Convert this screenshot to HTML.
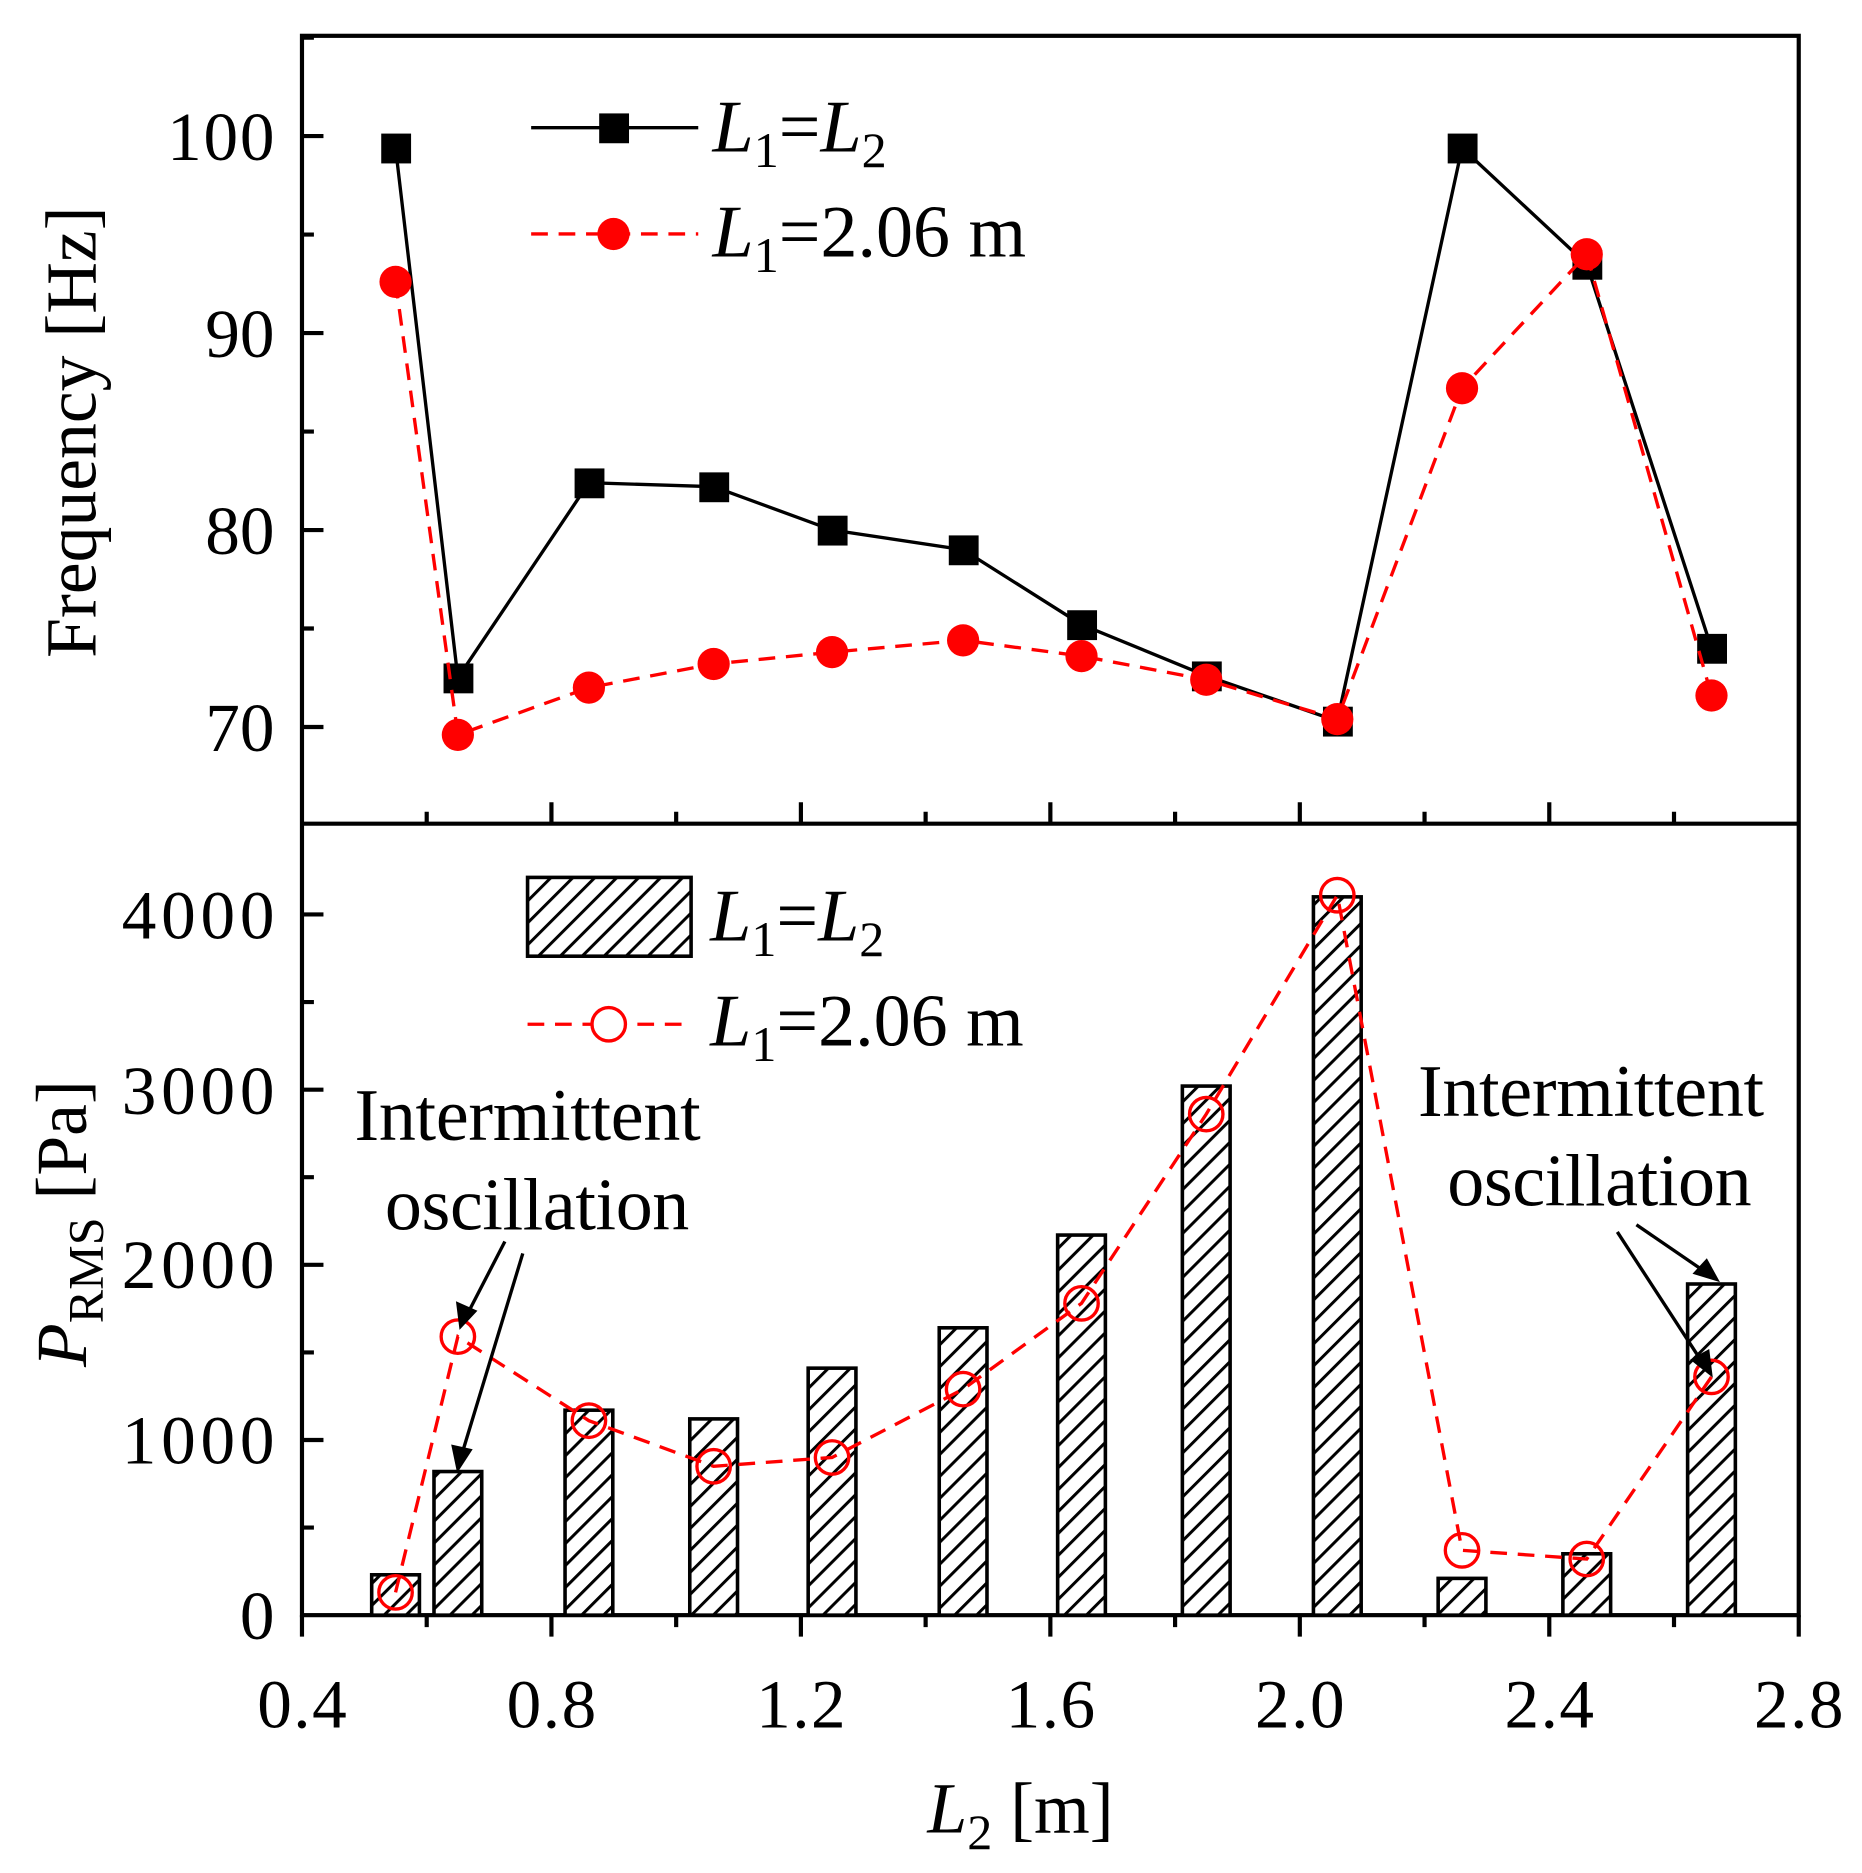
<!DOCTYPE html>
<html><head><meta charset="utf-8"><style>html,body{margin:0;padding:0;background:#fff}svg{display:block}</style></head>
<body>
<svg width="1862" height="1873" viewBox="0 0 1560 1569" preserveAspectRatio="none" xmlns="http://www.w3.org/2000/svg" font-family="Liberation Serif, serif">
<defs>
<pattern id="h" patternUnits="userSpaceOnUse" width="13" height="13" patternTransform="rotate(45)">
<rect width="13" height="13" fill="#fff"/><line x1="0" y1="0" x2="0" y2="13" stroke="#000" stroke-width="5"/>
</pattern>
</defs>
<rect width="1560" height="1569" fill="#fff"/>
<g stroke="#000" stroke-width="3.5" fill="none">
<rect x="253" y="30" width="1254" height="1323"/>
<line x1="253" y1="690" x2="1507" y2="690"/>
<path d="M462 690v-18M671 690v-18M880 690v-18M1089 690v-18M1298 690v-18M357.5 690v-10M566.5 690v-10M775.5 690v-10M984.5 690v-10M1193.5 690v-10M1402.5 690v-10"/>
<path d="M253 1353v18M462 1353v18M671 1353v18M880 1353v18M1089 1353v18M1298 1353v18M1507 1353v18M357.5 1353v10M566.5 1353v10M775.5 1353v10M984.5 1353v10M1193.5 1353v10M1402.5 1353v10"/>
<path d="M253 609h18M253 444h18M253 279h18M253 114h18M253 526.5h10M253 361.5h10M253 196.5h10M253 31.5h10"/>
<path d="M253 1206.3h18M253 1059.5h18M253 912.8h18M253 766h18M253 1279.6h10M253 1132.9h10M253 986.1h10M253 839.4h10"/>
</g>
<g font-size="58" text-anchor="middle" fill="#000">
<text x="253" y="1447" textLength="75">0.4</text><text x="462" y="1447" textLength="75">0.8</text><text x="671" y="1447" textLength="75">1.2</text><text x="880" y="1447" textLength="75">1.6</text><text x="1089" y="1447" textLength="75">2.0</text><text x="1298" y="1447" textLength="75">2.4</text><text x="1507" y="1447" textLength="75">2.8</text>
</g>
<g font-size="58" text-anchor="end" fill="#000">
<text x="230" y="629">70</text><text x="230" y="464">80</text><text x="230" y="299">90</text><text x="230" y="134" textLength="90">100</text>
<text x="230" y="1373">0</text><text x="230" y="1226" textLength="128">1000</text><text x="230" y="1079" textLength="128">2000</text><text x="230" y="933" textLength="128">3000</text><text x="230" y="786" textLength="128">4000</text>
</g>
<text transform="translate(80,362) rotate(-90)" font-size="60" text-anchor="middle">Frequency [Hz]</text>
<text transform="translate(72,1025) rotate(-90)" font-size="60" text-anchor="middle"><tspan font-style="italic">P</tspan><tspan font-size="42" dy="14">RMS</tspan><tspan dy="-14"> [Pa]</tspan></text>
<text x="855" y="1535" font-size="60" text-anchor="middle"><tspan font-style="italic">L</tspan><tspan font-size="42" dy="14">2</tspan><tspan dy="-14"> [m]</tspan></text>

<polyline fill="none" stroke="#000" stroke-width="2.8" points="331.4,123.9 383.6,567.8 493.4,404.4 597.9,407.7 697.1,444 806.9,460.5 906.1,523.2 1010.6,566.1 1120.4,604 1224.9,123.9 1329.4,221.3 1433.9,543"/>
<g fill="#000">
<rect x="319.4" y="111.9" width="25" height="25"/><rect x="371.6" y="555.8" width="25" height="25"/><rect x="481.4" y="392.4" width="25" height="25"/><rect x="585.9" y="395.7" width="25" height="25"/><rect x="685.1" y="432" width="25" height="25"/><rect x="794.9" y="448.5" width="25" height="25"/><rect x="894.1" y="511.2" width="25" height="25"/><rect x="998.6" y="554.1" width="25" height="25"/><rect x="1108.4" y="592" width="25" height="25"/><rect x="1212.9" y="111.9" width="25" height="25"/><rect x="1317.4" y="209.3" width="25" height="25"/><rect x="1421.9" y="531" width="25" height="25"/>
</g>
<polyline fill="none" stroke="#f00" stroke-width="2.8" stroke-dasharray="14,9" points="331.4,236.1 383.6,615.6 493.4,576 597.9,556.2 697.1,546.3 806.9,536.4 906.1,549.6 1010.6,569.4 1120.4,602.4 1224.9,325.2 1329.4,213 1433.9,582.6"/>
<g fill="#f00">
<circle cx="331.4" cy="236.1" r="13.5"/><circle cx="383.6" cy="615.6" r="13.5"/><circle cx="493.4" cy="576" r="13.5"/><circle cx="597.9" cy="556.2" r="13.5"/><circle cx="697.1" cy="546.3" r="13.5"/><circle cx="806.9" cy="536.4" r="13.5"/><circle cx="906.1" cy="549.6" r="13.5"/><circle cx="1010.6" cy="569.4" r="13.5"/><circle cx="1120.4" cy="602.4" r="13.5"/><circle cx="1224.9" cy="325.2" r="13.5"/><circle cx="1329.4" cy="213" r="13.5"/><circle cx="1433.9" cy="582.6" r="13.5"/>
</g>
<line x1="445" y1="107" x2="585" y2="107" stroke="#000" stroke-width="2.8"/>
<rect x="502" y="95" width="25" height="25" fill="#000"/>
<text x="597" y="127" font-size="62"><tspan font-style="italic">L</tspan><tspan font-size="42" dy="13">1</tspan><tspan dy="-13">=</tspan><tspan font-style="italic">L</tspan><tspan font-size="42" dy="13">2</tspan></text>
<line x1="445" y1="196" x2="585" y2="196" stroke="#f00" stroke-width="2.8" stroke-dasharray="14,9"/>
<circle cx="514" cy="196" r="13.5" fill="#f00"/>
<text x="597" y="215" font-size="62"><tspan font-style="italic">L</tspan><tspan font-size="42" dy="13">1</tspan><tspan dy="-13">=2.06 m</tspan></text>

<g fill="url(#h)" stroke="#000" stroke-width="3">
<rect x="311.4" y="1319.2" width="40" height="33.8"/><rect x="363.6" y="1232.7" width="40" height="120.3"/><rect x="473.4" y="1181.3" width="40" height="171.7"/><rect x="577.9" y="1188.6" width="40" height="164.4"/><rect x="677.1" y="1146.1" width="40" height="206.9"/><rect x="786.9" y="1112.3" width="40" height="240.7"/><rect x="886.1" y="1034.6" width="40" height="318.4"/><rect x="990.6" y="909.8" width="40" height="443.2"/><rect x="1100.4" y="751.3" width="40" height="601.7"/><rect x="1204.9" y="1322.2" width="40" height="30.8"/><rect x="1309.4" y="1301.6" width="40" height="51.4"/><rect x="1413.9" y="1075.6" width="40" height="277.4"/>
</g>
<polyline fill="none" stroke="#f00" stroke-width="2.8" stroke-dasharray="14,9" points="331.4,1333.9 383.6,1119.7 493.4,1190.1 597.9,1228.3 697.1,1220.9 806.9,1163.7 906.1,1091.8 1010.6,933.3 1120.4,749.9 1224.9,1298.7 1329.4,1306 1433.9,1153.4"/>
<g fill="none" stroke="#f00" stroke-width="2.8">
<circle cx="331.4" cy="1333.9" r="14"/><circle cx="383.6" cy="1119.7" r="14"/><circle cx="493.4" cy="1190.1" r="14"/><circle cx="597.9" cy="1228.3" r="14"/><circle cx="697.1" cy="1220.9" r="14"/><circle cx="806.9" cy="1163.7" r="14"/><circle cx="906.1" cy="1091.8" r="14"/><circle cx="1010.6" cy="933.3" r="14"/><circle cx="1120.4" cy="749.9" r="14"/><circle cx="1224.9" cy="1298.7" r="14"/><circle cx="1329.4" cy="1306" r="14"/><circle cx="1433.9" cy="1153.4" r="14"/>
</g>
<rect x="442" y="735" width="137" height="66" fill="url(#h)" stroke="#000" stroke-width="3"/>
<text x="595" y="788" font-size="62"><tspan font-style="italic">L</tspan><tspan font-size="42" dy="13">1</tspan><tspan dy="-13">=</tspan><tspan font-style="italic">L</tspan><tspan font-size="42" dy="13">2</tspan></text>
<line x1="442" y1="858" x2="580" y2="858" stroke="#f00" stroke-width="2.8" stroke-dasharray="14,9"/>
<circle cx="510" cy="858" r="14" fill="#fff" stroke="#f00" stroke-width="2.8"/>
<text x="595" y="876" font-size="62"><tspan font-style="italic">L</tspan><tspan font-size="42" dy="13">1</tspan><tspan dy="-13">=2.06 m</tspan></text>

<g font-size="62" text-anchor="middle">
<text x="442" y="955" textLength="290">Intermittent</text><text x="450" y="1030" textLength="255">oscillation</text>
<text x="1333" y="935" textLength="290">Intermittent</text><text x="1340" y="1010" textLength="255">oscillation</text>
</g>
<g stroke="#000" stroke-width="2.8">
<line x1="423" y1="1040" x2="392" y2="1100"/><line x1="438" y1="1050" x2="387" y2="1218"/>
<line x1="1371" y1="1026" x2="1428" y2="1065"/><line x1="1355" y1="1032" x2="1426" y2="1141"/>
</g>
<g fill="#000">
<polygon points="385,1114 382,1090 400,1098"/>
<polygon points="383,1234 378,1210 396,1214"/>
<polygon points="1441,1074 1418,1067 1430,1054"/>
<polygon points="1435,1154 1416,1139 1432,1130"/>
</g>
</svg>
</body></html>
